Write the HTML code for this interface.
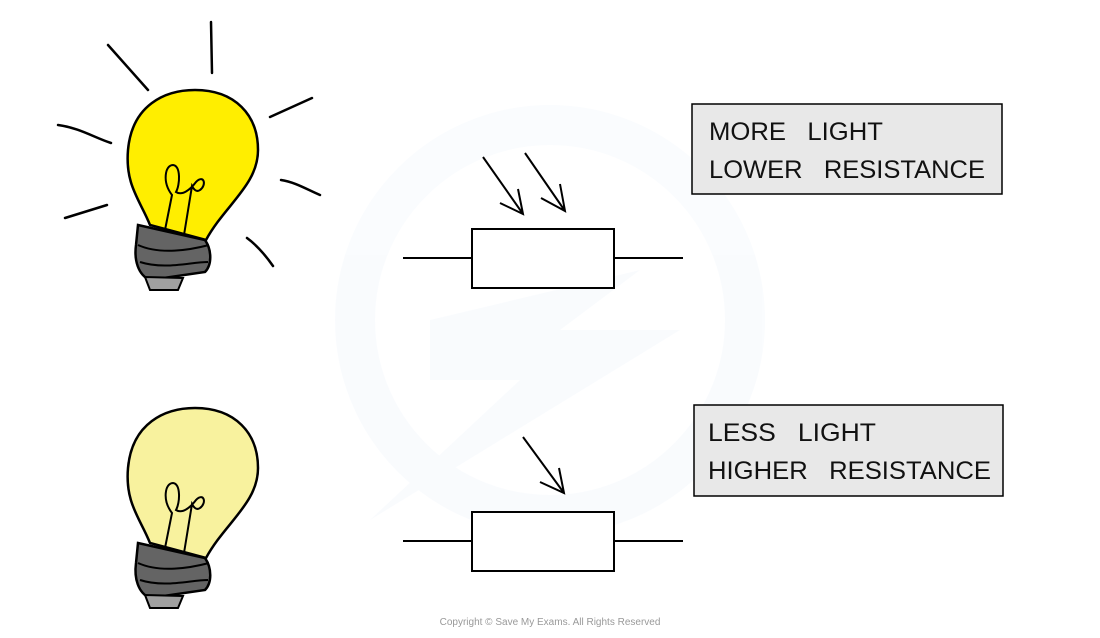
<!DOCTYPE html>
<html><head><meta charset="utf-8"><style>html,body{margin:0;padding:0;background:#fff}svg{display:block}text{white-space:pre}</style></head>
<body>
<svg width="1100" height="638" viewBox="0 0 1100 638" xmlns="http://www.w3.org/2000/svg" font-family="Liberation Sans, sans-serif">
<g opacity="0.025" fill="#2a6fd6">
<circle cx="550" cy="320" r="195" fill="none" stroke="#2a6fd6" stroke-width="40"/>
<path d="M430,320 L640,270 L560,330 L680,330 L370,520 L520,380 L430,380 Z"/>
</g>
<defs>
<g id="bulb">
<path d="M150,225 C140,200 125,185 128,150 C132,105 165,90 195,90 C235,90 258,115 258,150 C258,185 225,205 206,240 Z" stroke="#000" stroke-width="2.5"/>
<path d="M165,230 L172,195 C162,182 165,165 173,165 C181,166 180,185 176,192 C182,196 190,190 196,182 C204,174 207,185 200,190 C196,193 193,188 192,186 L184,235" fill="none" stroke="#000" stroke-width="2"/>
<path d="M138,225 L205,240 C212,250 212,265 205,272 L150,280 C138,275 134,260 136,245 Z" fill="#646464" stroke="#000" stroke-width="2.5"/>
<path d="M138,245 C160,255 190,250 209,245 M140,262 C165,270 190,262 208,262" fill="none" stroke="#000" stroke-width="2"/>
<path d="M145,277 L183,278 L178,290 L150,290 Z" fill="#a0a0a0" stroke="#000" stroke-width="2"/>
</g>
</defs>
<use href="#bulb" fill="#ffee00"/>
<use href="#bulb" fill="#f8f29e" transform="translate(0,318)"/>
<g stroke="#000" stroke-width="2.5" fill="none" stroke-linecap="round">
<path d="M108,45 L148,90 M211,22 L212,73 M270,117 L312,98 M58,125 C80,128 95,138 111,143 M65,218 L107,205 M281,180 C295,182 308,190 320,195 M247,238 C258,246 266,256 273,266"/>
</g>
<g stroke="#000" stroke-width="2" fill="none">
<rect x="472" y="229" width="142" height="59" fill="#fff"/>
<path d="M403,258 H472 M614,258 H683"/>
<path d="M483,157 L523,214 M500,203 L523,214 L518,189 M525,153 L565,211 M541,198 L565,211 L560,184"/>
<rect x="472" y="512" width="142" height="59" fill="#fff"/>
<path d="M403,541 H472 M614,541 H683"/>
<path d="M523,437 L564,493 M540,482 L564,493 L559,468"/>
</g>
<rect x="692" y="104" width="310" height="90" fill="#e8e8e8" stroke="#000" stroke-width="1.5"/>
<rect x="694" y="405" width="309" height="91" fill="#e8e8e8" stroke="#000" stroke-width="1.5"/>
<g font-size="25" fill="#111">
<text x="709" y="140" textLength="174" lengthAdjust="spacingAndGlyphs">MORE   LIGHT</text>
<text x="709" y="178" textLength="276" lengthAdjust="spacingAndGlyphs">LOWER   RESISTANCE</text>
<text x="708" y="441" textLength="168" lengthAdjust="spacingAndGlyphs">LESS   LIGHT</text>
<text x="708" y="479" textLength="283" lengthAdjust="spacingAndGlyphs">HIGHER   RESISTANCE</text>
</g>
<text x="550" y="625" font-size="10" fill="#999" text-anchor="middle">Copyright © Save My Exams. All Rights Reserved</text>
</svg>
</body></html>
